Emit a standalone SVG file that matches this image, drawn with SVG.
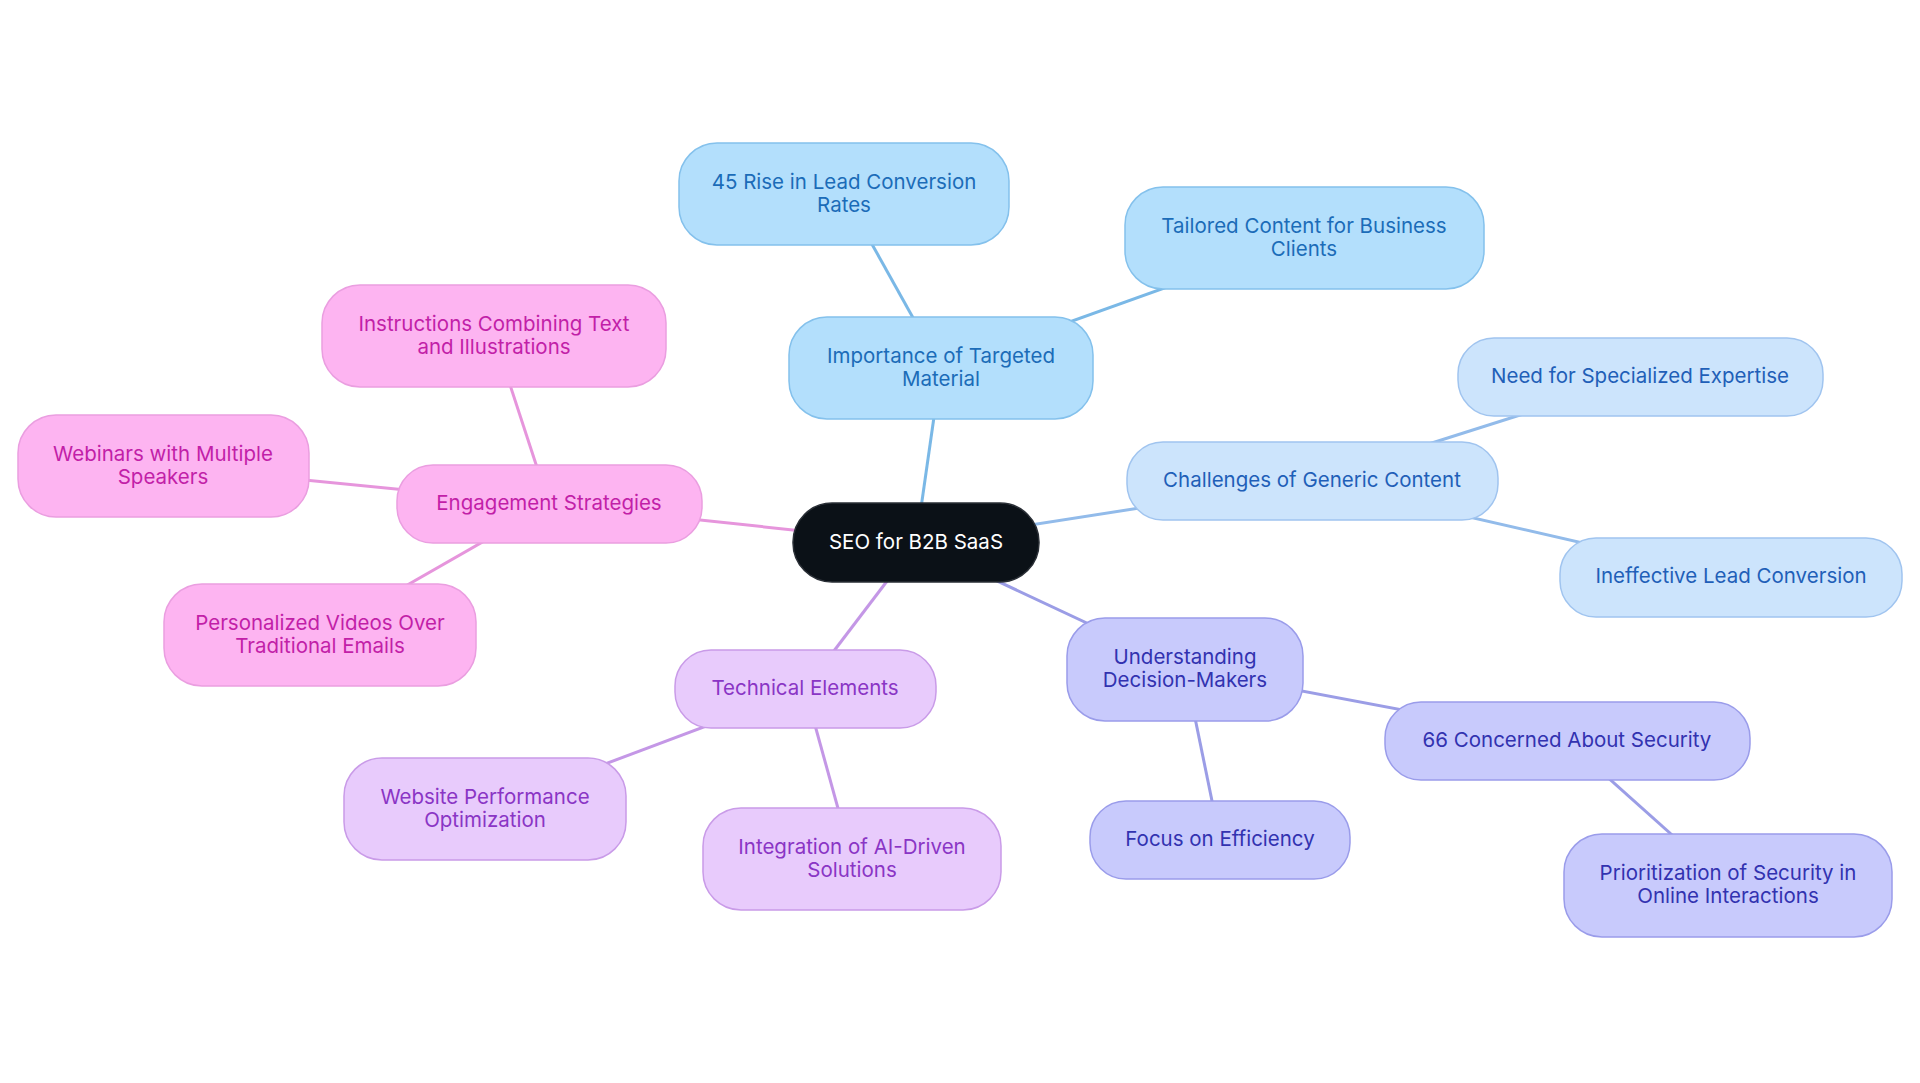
<svg xmlns="http://www.w3.org/2000/svg" width="1920" height="1083" viewBox="0 0 1920 1083">
<style>
text{font-family:Inter,"Liberation Sans",sans-serif;font-size:20.5px;text-anchor:middle;dominant-baseline:central}
.e{stroke-width:3;fill:none}
.b1 rect{fill:#b3dffc;stroke:#84c1ec;stroke-width:1.5}.b1 text{fill:#1b6cb8}
.b2 rect{fill:#cce4fc;stroke:#a0c4ef;stroke-width:1.5}.b2 text{fill:#1f5fb8}
.b3 rect{fill:#c8cafc;stroke:#9a9cea;stroke-width:1.5}.b3 text{fill:#3232b0}
.b4 rect{fill:#e8cbfc;stroke:#c99be8;stroke-width:1.5}.b4 text{fill:#8a35c5}
.b5 rect{fill:#fdb4f1;stroke:#ea9ee0;stroke-width:1.5}.b5 text{fill:#c21fa8}
</style>
<rect width="1920" height="1083" fill="#ffffff"/>
<g id="connectors">
<line class="e" stroke="#7ab8e6" x1="916" y1="543" x2="941" y2="368"/>
<line class="e" stroke="#7ab8e6" x1="941" y1="368" x2="844" y2="194"/>
<line class="e" stroke="#7ab8e6" x1="941" y1="368" x2="1304" y2="238"/>
<line class="e" stroke="#92bbea" x1="916" y1="543" x2="1312" y2="481"/>
<line class="e" stroke="#92bbea" x1="1312" y1="481" x2="1640" y2="377"/>
<line class="e" stroke="#92bbea" x1="1312" y1="481" x2="1731" y2="577"/>
<line class="e" stroke="#9b9de6" x1="916" y1="543" x2="1185" y2="669"/>
<line class="e" stroke="#9b9de6" x1="1185" y1="669" x2="1567" y2="741"/>
<line class="e" stroke="#9b9de6" x1="1185" y1="669" x2="1220" y2="840"/>
<line class="e" stroke="#9b9de6" x1="1567" y1="741" x2="1728" y2="885"/>
<line class="e" stroke="#c497e6" x1="916" y1="543" x2="805" y2="689"/>
<line class="e" stroke="#c497e6" x1="805" y1="689" x2="485" y2="809"/>
<line class="e" stroke="#c497e6" x1="805" y1="689" x2="852" y2="859"/>
<line class="e" stroke="#e695dc" x1="916" y1="543" x2="549" y2="504"/>
<line class="e" stroke="#e695dc" x1="549" y1="504" x2="494" y2="336"/>
<line class="e" stroke="#e695dc" x1="549" y1="504" x2="163" y2="466"/>
<line class="e" stroke="#e695dc" x1="549" y1="504" x2="320" y2="635"/>
</g>
<g id="root"><rect x="793" y="503" width="246" height="79" rx="39" fill="#0b1117" stroke="#2a2f36" stroke-width="1.5"/><text x="916" y="541" fill="#ffffff">SEO for B2B SaaS</text></g>
<g id="n-importance" class="b1"><rect x="789" y="317" width="304" height="102" rx="38"/><text x="941" y="355">Importance of Targeted</text><text x="941" y="378">Material</text></g>
<g id="n-45rise" class="b1"><rect x="679" y="143" width="330" height="102" rx="38"/><text x="844" y="181">45 Rise in Lead Conversion</text><text x="844" y="204">Rates</text></g>
<g id="n-tailored" class="b1"><rect x="1125" y="187" width="359" height="102" rx="38"/><text x="1304" y="225">Tailored Content for Business</text><text x="1304" y="248">Clients</text></g>
<g id="n-challenges" class="b2"><rect x="1127" y="442" width="371" height="78" rx="36"/><text x="1312" y="479">Challenges of Generic Content</text></g>
<g id="n-need" class="b2"><rect x="1458" y="338" width="365" height="78" rx="36"/><text x="1640" y="375">Need for Specialized Expertise</text></g>
<g id="n-ineffective" class="b2"><rect x="1560" y="538" width="342" height="79" rx="36"/><text x="1731" y="575">Ineffective Lead Conversion</text></g>
<g id="n-understanding" class="b3"><rect x="1067" y="618" width="236" height="103" rx="38"/><text x="1185" y="656">Understanding</text><text x="1185" y="679">Decision-Makers</text></g>
<g id="n-66" class="b3"><rect x="1385" y="702" width="365" height="78" rx="36"/><text x="1567" y="739">66 Concerned About Security</text></g>
<g id="n-focus" class="b3"><rect x="1090" y="801" width="260" height="78" rx="36"/><text x="1220" y="838">Focus on Efficiency</text></g>
<g id="n-prioritization" class="b3"><rect x="1564" y="834" width="328" height="103" rx="38"/><text x="1728" y="872">Prioritization of Security in</text><text x="1728" y="895">Online Interactions</text></g>
<g id="n-technical" class="b4"><rect x="675" y="650" width="261" height="78" rx="36"/><text x="805" y="687">Technical Elements</text></g>
<g id="n-website" class="b4"><rect x="344" y="758" width="282" height="102" rx="38"/><text x="485" y="796">Website Performance</text><text x="485" y="819">Optimization</text></g>
<g id="n-integration" class="b4"><rect x="703" y="808" width="298" height="102" rx="38"/><text x="852" y="846">Integration of AI-Driven</text><text x="852" y="869">Solutions</text></g>
<g id="n-engagement" class="b5"><rect x="397" y="465" width="305" height="78" rx="36"/><text x="549" y="502">Engagement Strategies</text></g>
<g id="n-instructions" class="b5"><rect x="322" y="285" width="344" height="102" rx="38"/><text x="494" y="323">Instructions Combining Text</text><text x="494" y="346">and Illustrations</text></g>
<g id="n-webinars" class="b5"><rect x="18" y="415" width="291" height="102" rx="38"/><text x="163" y="453">Webinars with Multiple</text><text x="163" y="476">Speakers</text></g>
<g id="n-personalized" class="b5"><rect x="164" y="584" width="312" height="102" rx="38"/><text x="320" y="622">Personalized Videos Over</text><text x="320" y="645">Traditional Emails</text></g>
</svg>
